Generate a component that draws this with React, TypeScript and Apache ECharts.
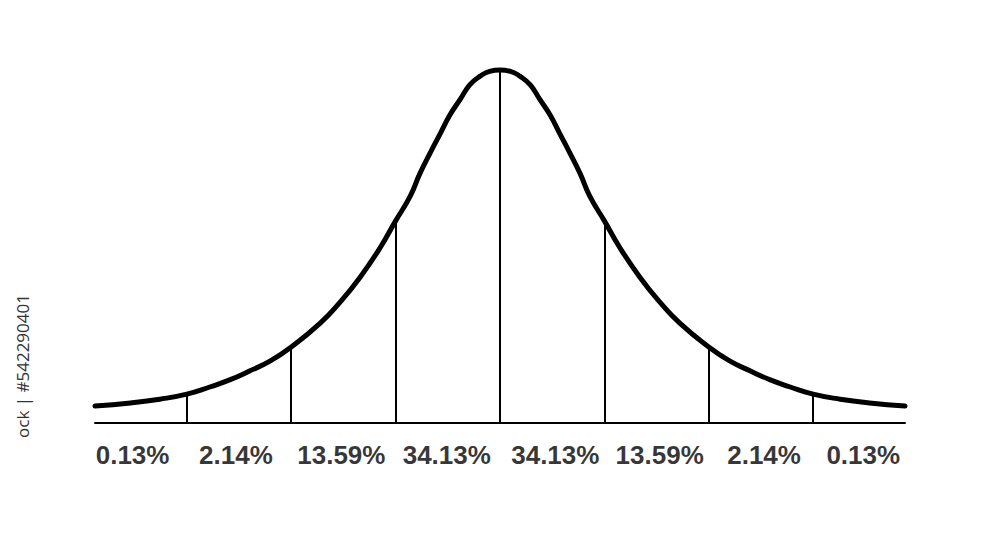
import React, { useEffect, useRef } from "react";
import * as echarts from "echarts";

// Curve: x in standard deviations, y as % of the peak height
const curveX = [
  -3.88, -3.54, -3.26, -3.0, -2.78, -2.59, -2.4, -2.2, -2.0, -1.72, -1.53, -1.34, -1.15, -1.0, -0.86, -0.77, -0.67,
  -0.57, -0.48, -0.38, -0.29, -0.19, -0.1, 0,
  0.1, 0.19, 0.29, 0.38, 0.48, 0.57, 0.67, 0.77, 0.86, 1.0, 1.15, 1.34, 1.53, 1.72, 2.0, 2.2, 2.4, 2.59, 2.78, 3.0,
  3.26, 3.54, 3.88,
];
const curveY = [
  0.9, 1.8, 2.9, 4.4, 6.5, 8.6, 11.2, 14.2, 18.3, 25.4, 31.6, 38.9, 47.5, 55.5, 62.8, 69.3, 75.5,
  81.4, 86.7, 91.4, 95.6, 98.2, 99.6, 100,
  99.6, 98.2, 95.6, 91.4, 86.7, 81.4, 75.5, 69.3, 62.8, 55.5, 47.5, 38.9, 31.6, 25.4, 18.3, 14.2, 11.2, 8.6, 6.5, 4.4,
  2.9, 1.8, 0.9,
];

// Divider lines at each standard deviation and their heights on the curve
const dividerX = [-3, -2, -1, 0, 1, 2, 3];
const dividerY = [4.4, 18.3, 55.5, 100, 55.5, 18.3, 4.4];

// Band share labels
const bandLabels = ["0.13%", "2.14%", "13.59%", "34.13%", "34.13%", "13.59%", "2.14%", "0.13%"];
const bandLabelX = [-3.52, -2.53, -1.52, -0.51, 0.53, 1.53, 2.53, 3.48];

const X_MIN = -3.88;
const X_MAX = 3.88;
const Y_MIN = -4;
const Y_MAX = 100;
const LABEL_Y = -13.6;

export default function App() {
  const ref = useRef<HTMLDivElement>(null);

  useEffect(() => {
    if (!ref.current) return;
    const chart = echarts.init(ref.current, undefined, { renderer: "svg" });

    const curveData = curveX.map((x, i) => [x, curveY[i]]);
    const dividers = dividerX.map((x, i) => [
      { coord: [x, Y_MIN] },
      { coord: [x, dividerY[i]] },
    ]);
    const labelData = bandLabelX.map((x, i) => ({ value: [x, LABEL_Y], name: bandLabels[i] }));

    chart.setOption({
      animation: false,
      backgroundColor: "#ffffff",
      grid: { left: 95, right: 95, top: 70, bottom: 110.4 },
      xAxis: {
        type: "value",
        min: X_MIN,
        max: X_MAX,
        axisLine: { show: true, onZero: false, lineStyle: { color: "#000000", width: 2 } },
        axisTick: { show: false },
        axisLabel: { show: false },
        splitLine: { show: false },
      },
      yAxis: {
        type: "value",
        min: Y_MIN,
        max: Y_MAX,
        show: false,
        splitLine: { show: false },
      },
      series: [
        {
          type: "line",
          data: curveData,
          smooth: 0.5,
          symbol: "none",
          clip: false,
          z: 3,
          lineStyle: { color: "#000000", width: 5, cap: "round", join: "round" },
          markLine: {
            silent: true,
            symbol: "none",
            label: { show: false },
            lineStyle: { color: "#000000", width: 2, type: "solid" },
            data: dividers,
          },
        },
        {
          type: "scatter",
          data: labelData,
          symbolSize: 1,
          clip: false,
          itemStyle: { color: "rgba(0,0,0,0)" },
          label: {
            show: true,
            position: "inside",
            formatter: (p: any) => p.name,
            color: "#000000",
            textBorderWidth: 0,
            fontFamily: "Liberation Sans, Arial, sans-serif",
            fontWeight: "bold",
            fontSize: 26,
          },
        },
      ],
      graphic: [
        {
          type: "text",
          x: 22,
          y: 366,
          rotation: Math.PI / 2,
          style: {
            text: "ock | #542290401",
            fill: "#333333",
            font: "17px 'Open Sans', sans-serif",
            textAlign: "center",
            textVerticalAlign: "middle",
          },
        },
      ],
    });

    return () => chart.dispose();
  }, []);

  return (
    <div
      ref={ref}
      style={{ position: "fixed", left: 0, top: 0, width: 1000, height: 533, background: "#fff" }}
    />
  );
}
